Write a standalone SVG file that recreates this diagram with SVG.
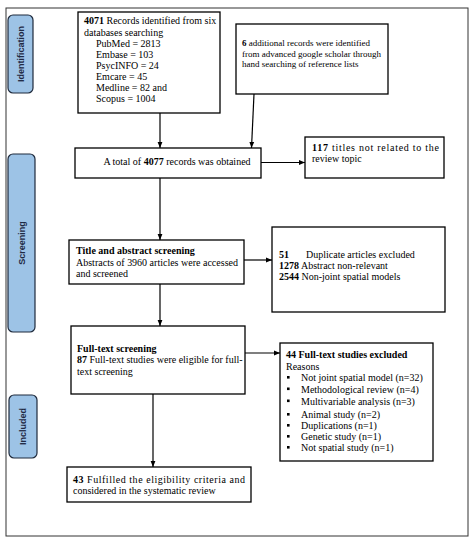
<svg xmlns="http://www.w3.org/2000/svg" width="474" height="544" viewBox="0 0 474 544">
<defs>
<marker id="ah" viewBox="0 0 10 10" refX="10" refY="5" markerWidth="6" markerHeight="6" orient="auto" markerUnits="userSpaceOnUse">
<path d="M0,1 L10,5 L0,9 z" fill="#000"/>
</marker>
</defs>
<style>
.box{fill:#fff;stroke:#000;stroke-width:1.3}
.lab{fill:#9DC3E6;stroke:#1f2a3c;stroke-width:1.2}
.labt{font-family:"Liberation Sans","DejaVu Sans",sans-serif;font-weight:bold;font-size:9px;fill:#1f2a44;text-anchor:middle}
.t{font-family:"Liberation Serif","Times New Roman",serif;font-size:10px;fill:#000}
.s{font-size:9px}
.b{font-weight:bold}
.bul{fill:#000}
.con{stroke:#000;stroke-width:1.2;fill:none;marker-end:url(#ah)}
</style>
<rect x="0" y="0" width="474" height="544" fill="#fff"/>
<rect x="6" y="8" width="462" height="528" fill="none" stroke="#333" stroke-width="1"/>

<g id="label-identification">
<rect class="lab" x="8" y="15" width="25" height="78" rx="5"/>
<text class="labt" transform="translate(23.5,54) rotate(-90)">Identification</text>
</g>
<g id="label-screening">
<rect class="lab" x="8" y="154" width="27" height="178" rx="5"/>
<text class="labt" transform="translate(24.5,243) rotate(-90)">Screening</text>
</g>
<g id="label-included">
<rect class="lab" x="9" y="395" width="28" height="63" rx="5"/>
<text class="labt" transform="translate(26,426.5) rotate(-90)">Included</text>
</g>

<g id="n-records">
<rect class="box" x="78" y="12" width="142" height="101"/>
<text class="t" x="84" y="24"><tspan class="b">4071</tspan> Records identified from six</text>
<text class="t" x="84" y="35.5">databases searching</text>
<text class="t" x="96" y="47">PubMed = 2813</text>
<text class="t" x="96" y="57.5">Embase = 103</text>
<text class="t" x="96" y="68.5">PsycINFO = 24</text>
<text class="t" x="96" y="79.5">Emcare = 45</text>
<text class="t" x="96" y="90.5">Medline = 82 and</text>
<text class="t" x="96" y="102">Scopus = 1004</text>
</g>

<g id="n-additional">
<rect class="box" x="236" y="24" width="152" height="70"/>
<text class="t s" x="242" y="46"><tspan class="b">6</tspan> additional records were identified</text>
<text class="t s" x="242" y="56.5">from advanced google scholar through</text>
<text class="t s" x="242" y="67">hand searching of reference lists</text>
</g>

<g id="n-total">
<rect class="box" x="75" y="148" width="186" height="30"/>
<text class="t" x="177" y="164.5" text-anchor="middle">A total of <tspan class="b">4077</tspan> records was obtained</text>
</g>

<g id="n-117">
<rect class="box" x="305" y="137" width="139" height="41"/>
<text class="t" x="312" y="150.5" textLength="127" lengthAdjust="spacing"><tspan class="b">117</tspan> titles not related to the</text>
<text class="t" x="312" y="161.5">review topic</text>
</g>

<g id="n-title">
<rect class="box" x="69" y="240" width="175" height="44"/>
<text class="t b" x="76" y="254">Title and abstract screening</text>
<text class="t" x="76" y="266" textLength="162" lengthAdjust="spacing">Abstracts of 3960 articles were accessed</text>
<text class="t" x="76" y="277">and screened</text>
</g>

<g id="n-51">
<rect class="box" x="272" y="227" width="173" height="85"/>
<text class="t" x="279" y="257.5"><tspan class="b">51</tspan></text>
<text class="t" x="306" y="257.5">Duplicate articles excluded</text>
<text class="t" x="279" y="268.5"><tspan class="b">1278</tspan> Abstract non-relevant</text>
<text class="t" x="279" y="279.5"><tspan class="b">2544</tspan> Non-joint spatial models</text>
</g>

<g id="n-fulltext">
<rect class="box" x="71" y="326" width="174" height="68"/>
<text class="t b" x="77" y="352">Full-text screening</text>
<text class="t" x="77" y="363"><tspan class="b">87</tspan> Full-text studies were eligible for full-</text>
<text class="t" x="77" y="374.5">text screening</text>
</g>

<g id="n-44">
<rect class="box" x="280" y="343" width="153" height="118"/>
<text class="t b" x="286" y="358">44 Full-text studies excluded</text>
<text class="t" x="286" y="370">Reasons</text>
<rect class="bul" x="287" y="376" width="2.6" height="2.6"/><text class="t" x="301" y="381">Not joint spatial model (n=32)</text>
<rect class="bul" x="287" y="387.5" width="2.6" height="2.6"/><text class="t" x="301" y="392.5">Methodological review (n=4)</text>
<rect class="bul" x="287" y="399.5" width="2.6" height="2.6"/><text class="t" x="301" y="404.5">Multivariable analysis (n=3)</text>
<rect class="bul" x="287" y="413" width="2.6" height="2.6"/><text class="t" x="301" y="418">Animal study (n=2)</text>
<rect class="bul" x="287" y="424" width="2.6" height="2.6"/><text class="t" x="301" y="429">Duplications (n=1)</text>
<rect class="bul" x="287" y="435" width="2.6" height="2.6"/><text class="t" x="301" y="440">Genetic study (n=1)</text>
<rect class="bul" x="287" y="446" width="2.6" height="2.6"/><text class="t" x="301" y="451">Not spatial study (n=1)</text>
</g>

<g id="n-43">
<rect class="box" x="67" y="467" width="184" height="35"/>
<text class="t" x="73" y="483" textLength="172" lengthAdjust="spacing"><tspan class="b">43</tspan> Fulfilled the eligibility criteria and</text>
<text class="t" x="73" y="494">considered in the systematic review</text>
</g>

<g id="connectors">
<line class="con" x1="160" y1="113" x2="160" y2="148"/>
<line class="con" x1="254" y1="94" x2="251.5" y2="148"/>
<line class="con" x1="261" y1="162.5" x2="305" y2="162.5"/>
<line class="con" x1="160" y1="178" x2="160" y2="240"/>
<line class="con" x1="244" y1="260" x2="272" y2="260"/>
<line class="con" x1="160" y1="284" x2="160" y2="326"/>
<line class="con" x1="245" y1="353" x2="280" y2="353"/>
<line class="con" x1="153" y1="394" x2="153" y2="467"/>
</g>
</svg>
